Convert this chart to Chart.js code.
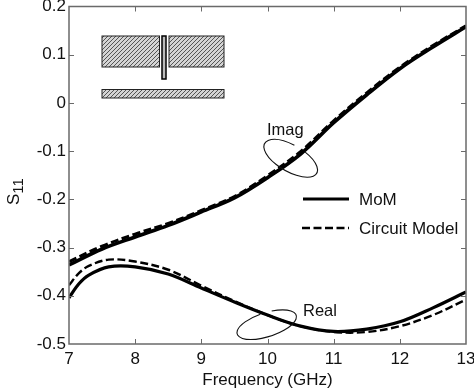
<!DOCTYPE html>
<html><head><meta charset="utf-8">
<script src="https://cdn.jsdelivr.net/npm/chart.js@4"></script>
<style>html,body{margin:0;padding:0;background:#fff}#w{width:474px;height:389px}canvas{display:block}</style>
</head><body><div id="w"><canvas id="c" width="474" height="389"></canvas></div>
<script>
const xTicks = [7,8,9,10,11,12,13];
const yTicks = [0.2,0.1,0,-0.1,-0.2,-0.3,-0.4,-0.5];
const imagFreq = [7,7.5,8,8.5,9,9.5,10,10.5,11,11.5,12,12.5,13];
const imagMoM = [-0.336,-0.303,-0.278,-0.254,-0.226,-0.197,-0.155,-0.106,-0.041,0.017,0.071,0.116,0.158];
const imagCircuit = [-0.329,-0.297,-0.272,-0.25,-0.223,-0.194,-0.151,-0.101,-0.037,0.021,0.074,0.119,0.16];
const realFreq = [7,7.15,7.3,7.6,8,8.5,9,9.5,10,10.5,11,11.5,12,12.5,13];
const realMoM = [-0.404,-0.375,-0.357,-0.34,-0.34,-0.355,-0.384,-0.413,-0.44,-0.463,-0.474,-0.469,-0.454,-0.425,-0.392];
const realCircuit = [-0.378,-0.353,-0.338,-0.325,-0.329,-0.346,-0.379,-0.411,-0.44,-0.463,-0.475,-0.475,-0.463,-0.44,-0.408];
const pts = (xs,ys)=>xs.map((x,i)=>({x,y:ys[i]}));
const FONT = '"Liberation Sans", Arial, sans-serif';
const AX = '#6a6a6a', INK = '#111';

function hatch(ctx){
  const p=document.createElement('canvas');p.width=p.height=4;
  const g=p.getContext('2d');g.fillStyle='#d4d4d4';g.fillRect(0,0,4,4);
  g.strokeStyle='#555';g.lineWidth=1;
  g.beginPath();g.moveTo(-1,5);g.lineTo(5,-1);g.moveTo(-1,1);g.lineTo(1,-1);g.moveTo(3,5);g.lineTo(5,3);g.stroke();
  return ctx.createPattern(p,'repeat');
}
const decor = {
  id:'decor',
  afterDraw(chart){
    const {ctx,chartArea:a,scales:{x,y}}=chart;
    ctx.save();
    ctx.strokeStyle=AX;ctx.lineWidth=1.5;
    ctx.strokeRect(a.left,a.top,a.right-a.left,a.bottom-a.top);
    ctx.lineWidth=1;ctx.beginPath();
    xTicks.slice(1,-1).forEach(t=>{const p=Math.round(x.getPixelForValue(t))+.5;
      ctx.moveTo(p,a.bottom);ctx.lineTo(p,a.bottom-5);ctx.moveTo(p,a.top);ctx.lineTo(p,a.top+5);});
    yTicks.slice(1,-1).forEach(t=>{const p=Math.round(y.getPixelForValue(t))+.5;
      ctx.moveTo(a.left,p);ctx.lineTo(a.left+5,p);ctx.moveTo(a.right,p);ctx.lineTo(a.right-5,p);});
    ctx.stroke();
    const pat=hatch(ctx);ctx.fillStyle=pat;ctx.strokeStyle='#222';ctx.lineWidth=1;
    [[102,36,57.5,31],[169,36,55,31],[102,89.5,122,8.5]].forEach(r=>{ctx.fillRect(...r);ctx.strokeRect(...r);});
    ctx.fillStyle='#bbb';ctx.fillRect(162,36,4,43);
    ctx.strokeStyle='#000';ctx.lineWidth=1.5;ctx.strokeRect(162,36,4,43);
    ctx.strokeStyle='#111';ctx.lineWidth=1.1;
    ctx.beginPath();ctx.ellipse(290.7,158.3,30,13.3,30*Math.PI/180,-1.25,4.6);ctx.stroke();
    ctx.beginPath();ctx.ellipse(266.7,324.7,31,12,-17.7*Math.PI/180,-1.28,4.62);ctx.stroke();
    ctx.fillStyle=INK;ctx.font='16.5px '+FONT;ctx.textBaseline='alphabetic';
    ctx.fillText('Imag',267,135);
    ctx.fillText('Real',303,316);
    ctx.strokeStyle='#000';ctx.lineWidth=3;ctx.setLineDash([]);
    ctx.beginPath();ctx.moveTo(303,199);ctx.lineTo(349,199);ctx.stroke();
    ctx.lineWidth=2.5;ctx.setLineDash([8,3.5]);
    ctx.beginPath();ctx.moveTo(302,228);ctx.lineTo(349,228);ctx.stroke();
    ctx.setLineDash([]);
    ctx.font='17px '+FONT;
    ctx.fillText('MoM',359,205);
    ctx.fillText('Circuit Model',359,234);
    ctx.translate(19,205);ctx.rotate(-Math.PI/2);
    ctx.font='17px '+FONT;ctx.fillText('S',0,0);
    const w=ctx.measureText('S').width;
    ctx.font='15px '+FONT;ctx.fillText('11',w,4);
    ctx.restore();
  }
};
const line=(label,xs,ys,w,dash)=>({label,data:pts(xs,ys),borderColor:'#000',borderWidth:w,borderDash:dash,
  pointRadius:0,fill:false,tension:0.35});
const noPad=s=>{s.paddingTop=0;s.paddingBottom=0;s.paddingLeft=0;s.paddingRight=0;};
new Chart(document.getElementById('c'),{
  type:'line',
  data:{datasets:[
    line('MoM',imagFreq,imagMoM,3.6,[]),
    line('Circuit Model',imagFreq,imagCircuit,3,[8,3.5]),
    line('MoM (Real)',realFreq,realMoM,3.2,[]),
    line('Circuit Model (Real)',realFreq,realCircuit,2.4,[8,3.5])
  ]},
  options:{
    responsive:false,animation:false,
    layout:{padding:{left:0,right:8,top:6.5,bottom:0}},
    plugins:{legend:{display:false},tooltip:{enabled:false}},
    scales:{
      x:{type:'linear',min:7,max:13,
        afterFit(s){s.height=45;noPad(s);},
        afterBuildTicks(s){s.ticks=xTicks.map(v=>({value:v}));},
        grid:{display:false,drawTicks:false},border:{display:false},
        ticks:{color:INK,font:{family:FONT,size:17},padding:5,maxRotation:0,callback:v=>String(v)},
        title:{display:true,text:'Frequency (GHz)',color:INK,font:{family:FONT,size:17},padding:{top:0,bottom:-2}}},
      y:{min:-0.5,max:0.2,
        afterFit(s){s.width=69;noPad(s);},
        afterBuildTicks(s){s.ticks=yTicks.map(v=>({value:v}));},
        grid:{display:false,drawTicks:false},border:{display:false},
        ticks:{color:INK,font:{family:FONT,size:17},padding:3,callback:v=>String(+v.toFixed(1))}}
    }
  },
  plugins:[decor]
});
</script></body></html>
